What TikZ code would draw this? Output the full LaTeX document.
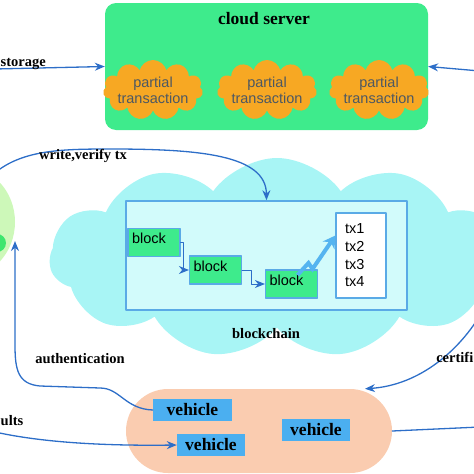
\documentclass[tikz,border=0pt]{standalone}
\usepackage{fontspec}
\setmainfont{Liberation Serif}
\setsansfont{Liberation Sans}
\usetikzlibrary{shapes.symbols,shapes.geometric,arrows.meta}

\definecolor{srvgreen}{HTML}{3EEB8C}
\definecolor{ptxorange}{HTML}{F7A823}
\definecolor{ptxtext}{HTML}{4D5862}
\definecolor{chaincyan}{HTML}{A8F5F5}
\definecolor{innercyan}{HTML}{D2FBFB}
\definecolor{edgeblue}{HTML}{5AAAE6}
\definecolor{linkblue}{HTML}{2D6EC8}
\definecolor{fatblue}{HTML}{55B4F0}
\definecolor{leafgreen}{HTML}{CDF8B9}
\definecolor{dotgreen}{HTML}{3EE66E}
\definecolor{pillpeach}{HTML}{FACCB0}
\definecolor{vehblue}{HTML}{4BAFF0}

\begin{document}
\begin{tikzpicture}[x=1pt, y=-1pt, line join=round, line cap=round, >={Stealth[length=10pt,width=8pt]},
  link/.style={->, draw=linkblue, line width=1.3pt},
  lbl/.style={font=\fontsize{14.5}{16}\selectfont\bfseries},
  ptx/.style={cloud, cloud puffs=11, aspect=1.8, fill=ptxorange, minimum width=100, minimum height=60, inner sep=0},
  ptxlab/.style={align=center, text=ptxtext, font=\sffamily\fontsize{14.5}{16}\selectfont},
  blk/.style={draw=edgeblue, fill=srvgreen, line width=1.2pt, text width=44, inner sep=4, text height=11, text depth=9,
    align=left, font=\sffamily\fontsize{14.5}{16}\selectfont},
  veh/.style={fill=vehblue, minimum height=22, inner sep=0, font=\fontsize{17.5}{18}\selectfont\bfseries}]
\useasboundingbox (0,0) rectangle (474,474);

% cloud server
\node[fill=srvgreen, rounded corners=11, minimum width=323, minimum height=127] (cserv) at (266.5,66.5) {};
\node[font=\fontsize{17.5}{18}\selectfont\bfseries] (ctitle) at (264,19) {cloud server};
\node[ptx, label={[ptxlab]center:{partial\\transaction}}] (ptx1) at (153,90) {};
\node[ptx, label={[ptxlab]center:{partial\\transaction}}] (ptx2) at (267,90) {};
\node[ptx, label={[ptxlab]center:{partial\\transaction}}] (ptx3) at (379,90) {};

% blockchain
\node[cloud, cloud puffs=11, cloud puff arc=110, aspect=2.3, fill=chaincyan, minimum width=455, minimum height=200] (bcloud) at (277,258) {};
\node[draw=edgeblue, fill=innercyan, line width=1.5pt, minimum width=281, minimum height=109] (chain) at (266.5,255.5) {};
\node[lbl] (bclabel) at (266,334) {blockchain};
\node[blk] (b1) at (154,242.5) {block};
\node[blk] (b2) at (215.5,270) {block};
\node[blk] (b3) at (291.5,284) {block};
\node[draw=edgeblue, fill=white, line width=1.2pt, text width=32, inner sep=9, minimum height=85, align=left,
  font=\sffamily\fontsize{14.5}{17.7}\selectfont] (txs) at (361,255.5) {tx1\\tx2\\tx3\\tx4};
\draw[link, line width=1pt] (b1.east) -- ++(3,0) |- (b2.west);
\draw[link, line width=1pt] (b2.east) -- ++(9,0) |- (b3.west);
\draw[->, draw=fatblue, line width=4pt, line cap=butt, line join=miter, >={Stealth[length=12pt,width=14pt]}]
  ([shift={(6,-9)}]b3.center) -- ++(11,-12) -- ++(4,6) -- ([yshift=20]txs.west);

% left unit
\node[ellipse, fill=leafgreen, minimum width=100, minimum height=110] (rsu) at (-35,222) {};
\node[circle, fill=dotgreen, minimum size=18, inner sep=0] (rsudot) at (-3,243) {};

% vehicles
\node[fill=pillpeach, rounded corners=42, minimum width=266, minimum height=84] (pill) at (259,431) {};
\node[veh, minimum width=79] (v1) at (192.5,410) {vehicle};
\node[veh, minimum width=68] (v2) at (211,445) {vehicle};
\node[veh, minimum width=68] (v3) at (316,430) {vehicle};

% free ends
\coordinate (stin) at (-5,69);
\coordinate (srvin) at (480,71);
\coordinate (resin) at (-5,432);
\coordinate (certin) at (482,312);
\coordinate (pillout) at (480,427);

% connectors
\draw[link] (stin) -- (cserv.west);
\node[lbl, anchor=west, inner sep=0] (stlabel) at (0.5,64) {storage};
\draw[link] (srvin) -- (cserv.east);
\draw[link] (rsu.60) .. controls (20,150) and (60,149) .. (110,149)
  .. controls (200,149) and (266,155) .. (chain.north);
\node[lbl] (wvlabel) at (83,156) {write,verify tx};
\draw[link] (v1.west) .. controls (125,409) and (120,388) .. (100,388) -- (40,386)
  .. controls (18,384) and (15,370) .. (15,345) -- (15,345 |- rsu.-22);
\node[lbl] (aulabel) at (80,359) {authentication};
\draw[link] (resin) .. controls (40,442) and (100,446) .. (v2.west);
\node[lbl, anchor=west, inner sep=0] (reslabel) at (0.5,421) {ults};
\draw[link] (certin) .. controls (460,350) and (420,385) .. ([xshift=106]pill.north);
\node[lbl, anchor=east, inner sep=0] (celabel) at (473.5,357) {certifi};
\draw[draw=linkblue, line width=1.3pt] (pill.east) -- (pillout);
\end{tikzpicture}
\end{document}
